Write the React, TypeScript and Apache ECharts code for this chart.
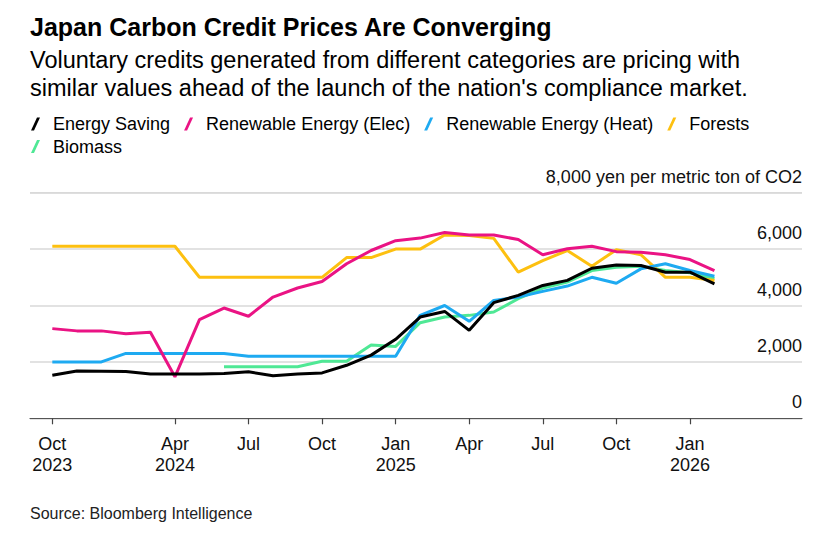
import { useEffect, useRef } from 'react';
import * as echarts from 'echarts';

// Monthly observations (no January 2024 print)
const months = [
  'Oct 2023', 'Nov 2023', 'Dec 2023', 'Feb 2024', 'Mar 2024', 'Apr 2024',
  'May 2024', 'Jun 2024', 'Jul 2024', 'Aug 2024', 'Sep 2024', 'Oct 2024',
  'Nov 2024', 'Dec 2024', 'Jan 2025', 'Feb 2025', 'Mar 2025', 'Apr 2025',
  'May 2025', 'Jun 2025', 'Jul 2025', 'Aug 2025', 'Sep 2025', 'Oct 2025',
  'Nov 2025', 'Dec 2025', 'Jan 2026', 'Feb 2026',
];

const tickMonths = [
  'Oct 2023', 'Apr 2024', 'Jul 2024', 'Oct 2024', 'Jan 2025',
  'Apr 2025', 'Jul 2025', 'Oct 2025', 'Jan 2026',
];
const tickLabels = [
  'Oct\n2023', 'Apr\n2024', 'Jul', 'Oct', 'Jan\n2025',
  'Apr', 'Jul', 'Oct', 'Jan\n2026',
];

// Yen per metric ton of CO2
const energySaving = [
  1530, 1680, 1670, 1660, 1570, 1570, 1570, 1590, 1650, 1510, 1570, 1610,
  1880, 2240, 2800, 3590, 3790, 3120, 4100, 4360, 4710, 4890, 5320, 5440,
  5420, 5180, 5180, 4770,
];
const renewableElec = [
  3180, 3100, 3100, 3000, 3050, 1470, 3500, 3910, 3620, 4300, 4620, 4850,
  5480, 5950, 6300, 6390, 6590, 6500, 6500, 6340, 5800, 6010, 6100, 5910,
  5890, 5800, 5630, 5240,
];
const renewableHeat = [
  2000, 2000, 2000, 2300, 2300, 2300, 2300, 2300, 2200, 2200, 2200, 2200,
  2200, 2200, 2200, 3650, 4000, 3440, 4180, 4300, 4500, 4690, 5000, 4790,
  5300, 5480, 5240, 5040,
];
const forests = [
  6100, 6100, 6100, 6100, 6100, 6100, 5000, 5000, 5000, 5000, 5000, 5000,
  5700, 5700, 6000, 6000, 6500, 6480, 6380, 5180, 5590, 5950, 5390, 5980,
  5800, 5000, 5000, 4890,
];
const biomass = [
  null, null, null, null, null, null, null, 1830, 1830, 1830, 1830, 2020,
  2020, 2600, 2550, 3390, 3590, 3650, 3770, 4240, 4620, 4830, 5240, 5360,
  5390, 5240, 5160, 4950,
];

const yTicks = { min: 0, max: 8000, interval: 2000 };
const xRange = { min: -0.91, max: 30.57 };
const unitLabel = '8,000 yen per metric ton of CO2';

const FONT = '"Liberation Sans", Arial, Helvetica, sans-serif';
const SLASH = 'path://M0,13 L6,0 L9,0 L3,13 Z';
const GRID_COLOR = '#d9d9d9';

const seriesDefs = [
  { name: 'Biomass', data: biomass, color: '#4fe895' },
  { name: 'Forests', data: forests, color: '#fdc010' },
  { name: 'Renewable Energy (Heat)', data: renewableHeat, color: '#1eaaf1' },
  { name: 'Renewable Energy (Elec)', data: renewableElec, color: '#ea1384' },
  { name: 'Energy Saving', data: energySaving, color: '#000000' },
];

export default function App() {
  const ref = useRef<HTMLDivElement>(null);

  useEffect(() => {
    if (!ref.current) return;
    const chart = echarts.init(ref.current, undefined, { renderer: 'svg' });
    const tickIdx = tickMonths.map((m) => months.indexOf(m));

    const legendText = { fontFamily: FONT, fontSize: 18, color: '#000', padding: [0, 0, 0, 8] };

    // rule across the top of the plot at the axis maximum
    const topRule = {
      name: 'top-rule',
      type: 'line',
      silent: true,
      clip: false,
      z: 0,
      showSymbol: false,
      symbol: 'none',
      lineStyle: { width: 1.5, color: GRID_COLOR },
      data: [
        [xRange.min, yTicks.max],
        [xRange.max, yTicks.max],
      ],
    };

    chart.setOption({
      animation: false,
      backgroundColor: '#ffffff',
      textStyle: { fontFamily: FONT },
      grid: { left: 30, right: 26, top: 192.7, bottom: 121.7 },
      legend: [
        {
          left: 31,
          top: 115,
          padding: 0,
          itemWidth: 9,
          itemHeight: 13,
          itemGap: 14,
          icon: SLASH,
          textStyle: legendText,
          data: ['Energy Saving', 'Renewable Energy (Elec)', 'Renewable Energy (Heat)', 'Forests'],
        },
        {
          left: 31,
          top: 137.5,
          padding: 0,
          itemWidth: 9,
          itemHeight: 13,
          itemGap: 14,
          icon: SLASH,
          textStyle: legendText,
          data: ['Biomass'],
        },
      ],
      xAxis: {
        type: 'value',
        min: xRange.min,
        max: xRange.max,
        splitLine: { show: false },
        axisLine: { show: true, lineStyle: { color: '#555', width: 1.2 } },
        axisTick: {
          show: true,
          customValues: tickIdx,
          length: 6,
          lineStyle: { color: '#444', width: 1.2 },
        },
        axisLabel: {
          customValues: tickIdx,
          margin: 15,
          fontFamily: FONT,
          fontSize: 18,
          lineHeight: 21,
          color: '#111',
          formatter: (v: number) => tickLabels[tickIdx.indexOf(Math.round(v))] ?? '',
        },
      },
      yAxis: {
        type: 'value',
        position: 'right',
        min: yTicks.min,
        max: yTicks.max,
        interval: yTicks.interval,
        axisLine: { show: false },
        axisTick: { show: false },
        splitLine: {
          show: true,
          lineStyle: { color: GRID_COLOR, width: 1.5 },
        },
        axisLabel: {
          inside: true,
          margin: 0,
          fontFamily: FONT,
          fontSize: 18,
          lineHeight: 32,
          color: '#111',
          verticalAlign: 'bottom',
          formatter: (v: number) =>
            v === yTicks.max ? unitLabel : v.toLocaleString('en-US'),
        },
      },
      series: [
        topRule,
        ...seriesDefs.map((s) => ({
          name: s.name,
          type: 'line',
          showSymbol: false,
          symbol: 'none',
          color: s.color,
          lineStyle: { width: 3, color: s.color },
          itemStyle: { color: s.color },
          connectNulls: false,
          data: s.data.map((v, i) => [i, v]),
        })),
      ],
      graphic: [
        {
          type: 'text',
          x: 30,
          y: 26.5,
          style: {
            text: 'Japan Carbon Credit Prices Are Converging',
            fontFamily: FONT,
            fontSize: 25,
            fontWeight: 'bold',
            fill: '#000',
            verticalAlign: 'middle',
          },
        },
        {
          type: 'text',
          x: 30,
          y: 73.7,
          style: {
            text:
              'Voluntary credits generated from different categories are pricing with\nsimilar values ahead of the launch of the nation\'s compliance market.',
            fontFamily: FONT,
            fontSize: 23.5,
            lineHeight: 28,
            fill: '#000',
            verticalAlign: 'middle',
          },
        },
        {
          type: 'text',
          x: 30,
          y: 513.5,
          style: {
            text: 'Source: Bloomberg Intelligence',
            fontFamily: FONT,
            fontSize: 16,
            fill: '#222',
            verticalAlign: 'middle',
          },
        },
      ],
    });

    return () => chart.dispose();
  }, []);

  return (
    <div
      ref={ref}
      style={{ position: 'absolute', left: 0, top: 0, width: 828, height: 540, background: '#fff' }}
    />
  );
}
